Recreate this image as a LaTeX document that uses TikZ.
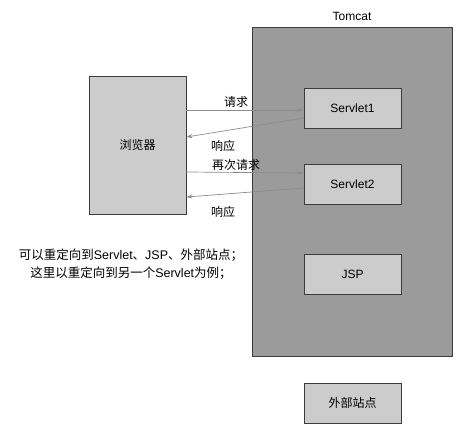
\documentclass[tikz,border=0pt]{standalone}
\usepackage{fontspec}
\setmainfont{Liberation Sans}
\newfontfamily\cjk{Noto Sans CJK SC}
\newcommand{\zh}[1]{{\cjk #1}}
\usetikzlibrary{arrows.meta,positioning}

\definecolor{boxfill}{HTML}{CCCCCC}
\definecolor{tomfill}{HTML}{9B9B9B}
\definecolor{edgegray}{HTML}{3C3C3C}
\definecolor{arrgray}{HTML}{8C8C8C}

\begin{document}
\begin{tikzpicture}[x=1pt, y=-1pt,
  every node/.style={font=\fontsize{12}{17}\selectfont},
  box/.style={draw=edgegray, fill=boxfill, line width=0.8pt, minimum width=97pt, minimum height=40pt, inner sep=0pt},
  arr/.style={draw=arrgray, line width=0.7pt, -{Stealth[length=6pt,width=4pt]}}]
  \useasboundingbox (0,0) rectangle (474,434);

  % containers
  \node[box, fill=tomfill, minimum width=200pt, minimum height=329pt] (tomcat) at (352,191.5) {};
  \node[above=2pt of tomcat.north] (tomcatlabel) {Tomcat};
  \node[box, minimum height=138pt] (browser) at (137.5,145) {\zh{浏览器}};

  % servlets and targets
  \node[box] (servlet1) at (352.5,108.5) {Servlet1};
  \node[box] (servlet2) at (352.5,184) {Servlet2};
  \node[box] (jsp) at (352.5,274.5) {JSP};
  \node[box] (external) at (352.5,403) {\zh{外部站点}};

  % request / response
  \draw[arr] ([yshift=-1.5pt]browser.east |- servlet1.west) -- ([yshift=-1.5pt]servlet1.west);
  \draw[arr] ([yshift=-9.5pt]servlet1.west) -- ([yshift=8pt]browser.east);
  \draw[arr] ([yshift=-27pt]browser.east) -- ([yshift=11pt]servlet2.west);
  \draw[arr] ([yshift=-4pt]servlet2.west) -- ([yshift=-52pt]browser.east);

  \node (req1) at (236,102) {\zh{请求}};
  \node (resp1) at (223,146) {\zh{响应}};
  \node (req2) at (236,165) {\zh{再次请求}};
  \node (resp2) at (223,212) {\zh{响应}};

  % note
  \node[align=center, font=\fontsize{12.5}{17.5}\selectfont] (note) at (131,264)
    {\zh{可以重定向到}Servlet\zh{、}JSP\zh{、外部站点；}\\\zh{这里以重定向到另一个}Servlet\zh{为例；}};
\end{tikzpicture}
\end{document}
